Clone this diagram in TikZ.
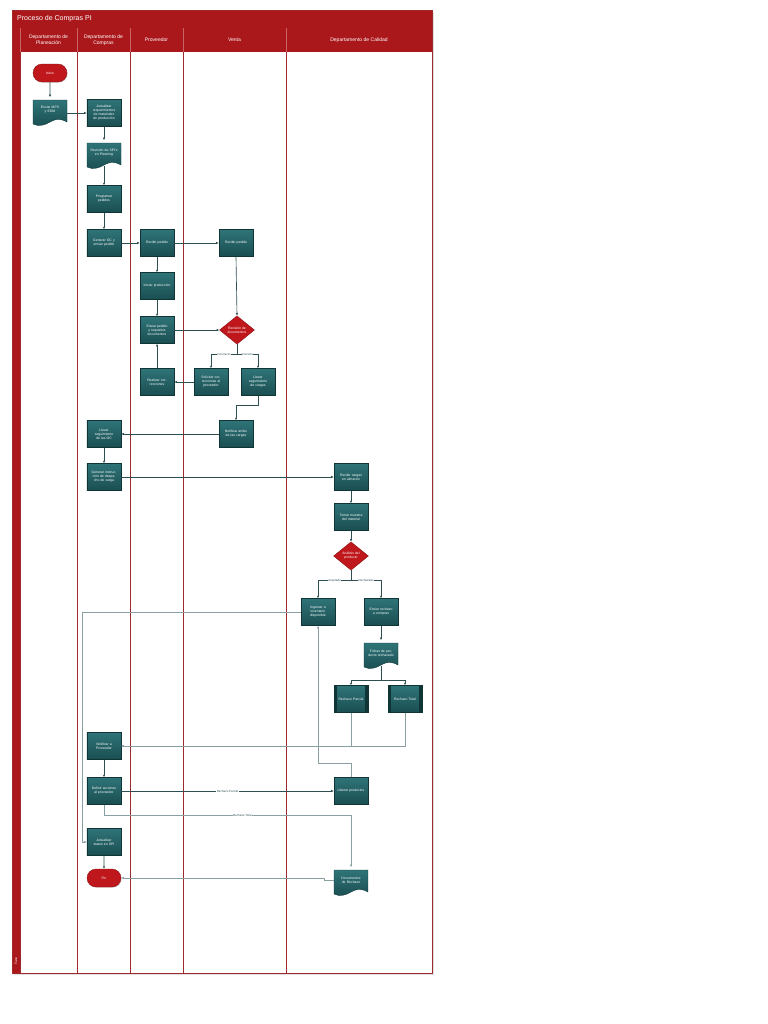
\documentclass[tikz,border=0pt]{standalone}
\usepackage{fontspec}
\setmainfont{Liberation Sans}
\usetikzlibrary{arrows.meta,shapes.geometric,shapes.misc,calc,shadows}
\definecolor{hdrred}{HTML}{AA181C}
\definecolor{laneline}{HTML}{9E2A2B}
\definecolor{hdrsep}{HTML}{C86466}
\definecolor{boxtop}{HTML}{2F7478}
\definecolor{boxbot}{HTML}{1A4E51}
\definecolor{boxedge}{HTML}{0F3537}
\definecolor{conncol}{HTML}{2E4F52}
\definecolor{connlight}{HTML}{8A9FA1}
\definecolor{termred}{HTML}{C0171C}
\tikzset{
 boxtext/.style={text=white, font=\fontsize{2.9}{3.4}\selectfont, align=center, text width=0.84cm, inner sep=0pt},
 stepbox/.style={boxtext, rectangle, draw=boxedge, line width=0.3pt, top color=boxtop, bottom color=boxbot, minimum width=1.02cm, minimum height=0.81cm, drop shadow={shadow xshift=0.6pt, shadow yshift=-0.6pt, opacity=0.3}},
 docbox/.style={boxtext, rectangle, minimum width=1.02cm, minimum height=0.75cm},
 termbox/.style={boxtext, rounded rectangle, fill=termred, draw=termred!70!black, line width=0.3pt, minimum width=1.02cm, minimum height=0.54cm, drop shadow={shadow xshift=0.6pt, shadow yshift=-0.6pt, opacity=0.3}},
 diabox/.style={diamond, fill=termred, draw=termred!70!black, line width=0.3pt, minimum width=1.05cm, minimum height=0.85cm, inner sep=0pt},
 diatext/.style={text=white, font=\fontsize{2.9}{3.4}\selectfont, align=center, inner sep=0pt},
 conn/.style={draw=conncol, line width=0.55pt, -{Latex[length=2.2pt,width=2pt]}},
 connl/.style={conn, draw=connlight},
 elabel/.style={font=\fontsize{2.5}{3}\selectfont, text=conncol, fill=white, inner sep=0.3pt},
 hdr/.style={text=white, font=\fontsize{4.3}{5}\selectfont, align=center},
 lane/.style={draw=laneline, line width=0.5pt},
}
\newcommand\docnode[4]{%
 \begin{scope}[shift={(#2,#3)}]
 \path[top color=boxtop,bottom color=boxbot,draw=boxedge,line width=0.3pt] (-17,-12) -- (17,-12) -- (17,10) .. controls (10,6) and (5,7) .. (0,10) .. controls (-5,13) and (-11,15) .. (-17,12) -- cycle;
 \end{scope}
 \node[docbox] (#1) at (#2,#3-2) {#4};
}
\newcommand\predefnode[4]{%
 \node[stepbox] (#1) at (#2,#3) {#4};
 \fill[boxedge] (#1.north west) rectangle ($(#1.south west)+(3,0)$);
 \fill[boxedge] (#1.north east) rectangle ($(#1.south east)+(-3,0)$);
}
\begin{document}
\begin{tikzpicture}[x=0.03cm,y=-0.03cm]
\useasboundingbox (0,0) rectangle (768,1024);
\fill[white] (0,0) rectangle (768,1024);
% pool
\fill[black!12] (14,12) rectangle (434,975);
\fill[white] (12,10) rectangle (432,973);
\fill[hdrred] (12,10) rectangle (432,52);
\fill[hdrred] (12,52) rectangle (20,973);
\foreach \xx in {20,77,130,183,286} {\draw[hdrsep, line width=0.3pt] (\xx,28) -- (\xx,52);}
\foreach \xx in {20,77,130,183,286} {\draw[lane] (\xx,52) -- (\xx,973);}
\draw[lane, line width=0.6pt] (12,10) rectangle (432,973);
\node[anchor=west, text=white, font=\fontsize{6}{7}\selectfont] (title) at (13,19) {Proceso de Compras PI};
\node[hdr] (h1) at (48.5,40) {Departamento de\\Planeación};
\node[hdr] (h2) at (103.5,40) {Departamento de\\Compras};
\node[hdr] (h3) at (156.5,40) {Proveedor};
\node[hdr] (h4) at (234.5,40) {Venta};
\node[hdr] (h5) at (359,40) {Departamento de Calidad};
\node[rotate=90, text=white, font=\fontsize{2.8}{3}\selectfont] (fase) at (16,961) {Fase};

% nodes
\node[termbox] (inicio) at (50,73) {Inicio};
\docnode{mps}{50}{112}{Enviar MPS y EOM}
\node[stepbox] (act) at (104,113) {Actualizar requerimientos de materiales de producción};
\docnode{spi}{104}{155}{Revisión de SPI's en Planning}
\node[stepbox] (prog) at (104,199) {Programar pedidos};
\node[stepbox] (gen) at (104,243) {Generar OC y enviar pedido};
\node[stepbox] (recp) at (157,243) {Recibir pedido};
\node[stepbox] (recv) at (236,243) {Recibir pedido};
\node[stepbox] (inip) at (157,286) {Iniciar producción};
\node[stepbox] (envp) at (157,330) {Enviar pedido y requisitos documentos};
\node[diabox] (rev) at (237,330) {};
\node[diatext] (revt) at (237,330) {Revisión de\\documentos};
\node[stepbox] (sol) at (211,382) {Solicitar correcciones al proveedor};
\node[stepbox] (lls) at (258,382) {Llevar seguimiento de cargas};
\node[stepbox] (rea) at (157,382) {Realizar correcciones};
\node[stepbox] (not) at (236,434) {Notificar arribo de las cargas};
\node[stepbox] (llo) at (104,434) {Llevar seguimiento de las OC};
\node[stepbox] (gin) at (104,477) {Generar instrucción de despacho de carga};
\node[stepbox] (rca) at (351,477) {Recibir cargas en almacén};
\node[stepbox] (tom) at (351,517) {Tomar muestra del material};
\node[diabox] (ana) at (351,556) {};
\node[diatext] (anat) at (351,556) {Análisis del\\producto};
\node[stepbox] (ing) at (318,612) {Ingresar a inventario disponible};
\node[stepbox] (env) at (381,612) {Enviar rechazo a compras};
\docnode{fic}{381}{655}{Fichas de producto rechazado}
\predefnode{rp}{351}{699}{Rechazo Parcial}
\predefnode{rt}{405}{699}{Rechazo Total}
\node[stepbox] (notp) at (104,746) {Notificar a Proveedor};
\node[stepbox] (def) at (104,791) {Definir acciones al proveedor};
\node[stepbox] (lib) at (351,791) {Liberar productos};
\node[stepbox] (sta) at (104,842) {Actualizar status en SPI};
\node[termbox] (fin) at (104,878) {Fin};
\docnode{doc}{351}{882}{Documentos de Rechazo}

% connectors
\draw[conn] (inicio) -- (mps);
\draw[conn] (act.west -| mps.east) -- (act.west);
\draw[conn] (act) -- (spi);
\draw[conn] (spi) -- (prog);
\draw[conn] (prog) -- (gen);
\draw[conn] (gen) -- (recp);
\draw[conn] (recp) -- (recv);
\draw[conn] (recp) -- (inip);
\draw[conn] (inip) -- (envp);
\draw[conn] (recv.south) -- (rev.north);
\draw[conn] (envp.east) -- (rev.west);
\draw[conn] (rev.south) -- ++(0,10) -| node[elabel,pos=0.25]{Incorrecto} (sol.north);
\draw[conn] (rev.south) -- ++(0,10) -| node[elabel,pos=0.25]{Correcto} (lls.north);
\draw[conn] (sol.west) -- (rea.east);
\draw[conn] (rea.north) -- (envp.south);
\draw[conn] (lls.south) -- ++(0,10) -| (not.north);
\draw[conn] (not.west) -- (llo.east);
\draw[conn] (llo) -- (gin);
\draw[conn] (gin.east) -- (rca.west);
\draw[conn] (rca) -- (tom);
\draw[conn] (tom) -- (ana);
\draw[conn] (ana.south) -- ++(0,10) -| node[elabel,pos=0.25]{Aceptado} (ing.north);
\draw[conn] (ana.south) -- ++(0,10) -| node[elabel,pos=0.25]{Rechazado} (env.north);
\draw[conn] (env) -- (fic);
\draw[conn] (fic.south) -- ++(0,15) -| (rp.north);
\draw[conn] (fic.south) -- ++(0,15) -| (rt.north);
\draw[connl] (rt.south) |- (notp.east);
\draw[connl] (rp.south) |- (notp.east);
\draw[connl] (lib.north) -- ++(0,-14) -| (ing.south);
\draw[conn] (notp) -- (def);
\draw[conn] (def.east) -- node[elabel]{Rechazo Parcial} (lib.west);
\draw[connl] (def.south) -- ++(0,11) -| node[elabel,pos=0.28]{Rechazo Total} (doc.north);
\draw[connl] (ing.west) -| ($(sta.west)+(-5,0)$) -- (sta.west);
\draw[conn] (sta) -- (fin);
\draw[connl] (doc.west) -- ++(-9,0) |- (fin.east);
\end{tikzpicture}
\end{document}
